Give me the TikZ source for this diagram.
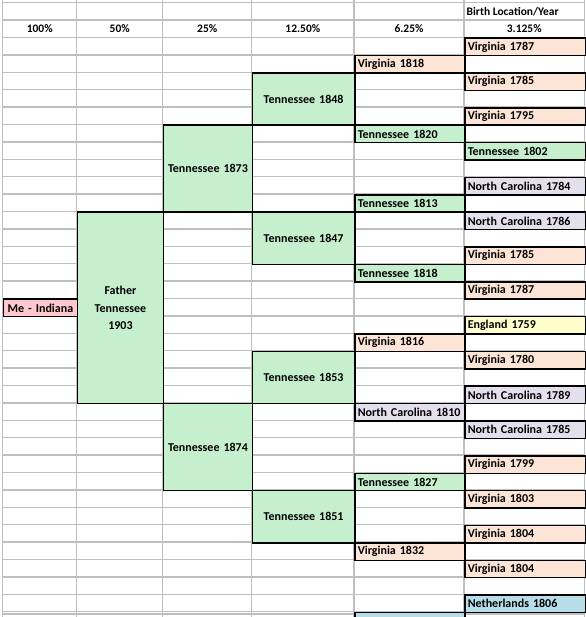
\documentclass[tikz,border=0pt]{standalone}
\usepackage{fontspec}
\setmainfont{Carlito}
\usepackage{xcolor}
\usepackage{tikz}

\definecolor{tnGreen}{RGB}{198,239,206}
\definecolor{vaPeach}{RGB}{252,228,214}
\definecolor{ncLilac}{RGB}{228,223,236}
\definecolor{enYellow}{RGB}{255,255,204}
\definecolor{mePink}{RGB}{255,199,206}
\definecolor{nlBlue}{RGB}{183,222,232}
\definecolor{gridGray}{RGB}{191,191,191}

\begin{document}
\begin{tikzpicture}[
        x=1pt, y=-17.4pt, % one unit down = one spreadsheet row
        every node/.style={font=\bfseries\fontsize{12}{17.4}\selectfont, inner sep=0pt},
        gridline/.style={draw=gridGray, line width=1.3pt},
        head/.style={font=\bfseries\fontsize{11.5}{14}\selectfont},
        box/.style={draw=black, line width=1.5pt, anchor=north west},
        span/.style 2 args={box, fill=tnGreen, text width=#1pt, align=center, minimum height=#2*17.4pt}, % width, rows
        leaf4/.style={box, text width=104pt, inner xsep=3pt, align=left, minimum height=17.4pt},
        leaf5/.style={box, text width=114.5pt, inner xsep=3pt, align=left, minimum height=17.4pt}
    ]
    \clip (0,-0.155) rectangle (586,35.305);

    % spreadsheet grid
    \foreach \r in {0,...,35} \draw[gridline] (2.7,\r) -- (584.5,\r);
    \draw[gridline] (2.7,35.13) -- (584.5,35.13);
    \foreach \c in {2.7,76.7,162.7,251.7,354,464,584.5} \draw[gridline] (\c,-0.155) -- (\c,35.305);

    % column headers
    \node[head, anchor=west] (title) at (466.5,0.5) {Birth Location/Year};
    \node[head] (h1) at (39.7,1.5) {100\%};
    \node[head] (h2) at (119.7,1.5) {50\%};
    \node[head] (h3) at (207.2,1.5) {25\%};
    \node[head] (h4) at (302.85,1.5) {12.50\%};
    \node[head] (h5) at (409,1.5) {6.25\%};
    \node[head] (h6) at (524.25,1.5) {3.125\%};

    % 100% and 50%
    \node[span={74}{1}, fill=mePink] (me) at (2.7,17) {Me - Indiana};
    \node[span={86}{11}] (father) at (76.7,12) {Father\\Tennessee\\1903};

    % 25%
    \node[span={89}{5}] (gp1) at (162.7,7) {Tennessee 1873};
    \node[span={89}{5}] (gp2) at (162.7,23) {Tennessee 1874};

    % 12.50%
    \node[span={102.3}{3}] (ggp1) at (251.7,4) {Tennessee 1848};
    \node[span={102.3}{3}] (ggp2) at (251.7,12) {Tennessee 1847};
    \node[span={102.3}{3}] (ggp3) at (251.7,20) {Tennessee 1853};
    \node[span={102.3}{3}] (ggp4) at (251.7,28) {Tennessee 1851};

    % 6.25%
    \node[leaf4, fill=vaPeach] (gggp1) at (354,3) {Virginia 1818};
    \node[leaf4, fill=tnGreen] (gggp2) at (354,7) {Tennessee 1820};
    \node[leaf4, fill=tnGreen] (gggp3) at (354,11) {Tennessee 1813};
    \node[leaf4, fill=tnGreen] (gggp4) at (354,15) {Tennessee 1818};
    \node[leaf4, fill=vaPeach] (gggp5) at (354,19) {Virginia 1816};
    \node[leaf4, fill=ncLilac] (gggp6) at (354,23) {North Carolina 1810};
    \node[leaf4, fill=tnGreen] (gggp7) at (354,27) {Tennessee 1827};
    \node[leaf4, fill=vaPeach] (gggp8) at (354,31) {Virginia 1832};
    \node[leaf4, fill=nlBlue] (gggp9) at (354,35) {};

    % 3.125%
    \node[leaf5, fill=vaPeach] (g4p1) at (464,2) {Virginia 1787};
    \node[leaf5, fill=vaPeach] (g4p2) at (464,4) {Virginia 1785};
    \node[leaf5, fill=vaPeach] (g4p3) at (464,6) {Virginia 1795};
    \node[leaf5, fill=tnGreen] (g4p4) at (464,8) {Tennessee 1802};
    \node[leaf5, fill=ncLilac] (g4p5) at (464,10) {North Carolina 1784};
    \node[leaf5, fill=ncLilac] (g4p6) at (464,12) {North Carolina 1786};
    \node[leaf5, fill=vaPeach] (g4p7) at (464,14) {Virginia 1785};
    \node[leaf5, fill=vaPeach] (g4p8) at (464,16) {Virginia 1787};
    \node[leaf5, fill=enYellow] (g4p9) at (464,18) {England 1759};
    \node[leaf5, fill=vaPeach] (g4p10) at (464,20) {Virginia 1780};
    \node[leaf5, fill=ncLilac] (g4p11) at (464,22) {North Carolina 1789};
    \node[leaf5, fill=ncLilac] (g4p12) at (464,24) {North Carolina 1785};
    \node[leaf5, fill=vaPeach] (g4p13) at (464,26) {Virginia 1799};
    \node[leaf5, fill=vaPeach] (g4p14) at (464,28) {Virginia 1803};
    \node[leaf5, fill=vaPeach] (g4p15) at (464,30) {Virginia 1804};
    \node[leaf5, fill=vaPeach] (g4p16) at (464,32) {Virginia 1804};
    \node[leaf5, fill=nlBlue] (g4p17) at (464,34) {Netherlands 1806};
\end{tikzpicture}
\end{document}
